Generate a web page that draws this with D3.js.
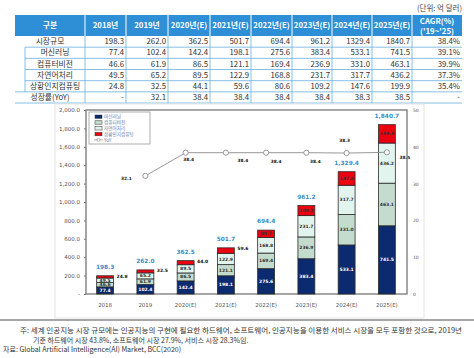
<!DOCTYPE html>
<html>
<head>
<meta charset="utf-8">
<script src="https://cdn.jsdelivr.net/npm/d3@7/dist/d3.min.js"></script>
<style>
	body {margin: 0; background: #fff;}
	svg {display: block;}
</style>
</head>
<body>
<div id="chart"></div>
<script>
// table + chart data
var years = ["2018", "2019", "2020(E)", "2021(E)", "2022(E)", "2023(E)", "2024(E)", "2025(E)"];
var headerYears = ["2018년", "2019년", "2020년(E)", "2021년(E)", "2022년(E)", "2023년(E)", "2024년(E)", "2025년(E)"];
var marketSize = [198.3, 262.0, 362.5, 501.7, 694.4, 961.2, 1329.4, 1840.7];
var machineLearning = [77.4, 102.4, 142.4, 198.1, 275.6, 383.4, 533.1, 741.5];
var computerVision = [46.6, 61.9, 86.5, 121.1, 169.4, 236.9, 331.0, 463.1];
var naturalLanguage = [49.5, 65.2, 89.5, 122.9, 168.8, 231.7, 317.7, 436.2];
var contextAware = [24.8, 32.5, 44.1, 59.6, 80.6, 109.2, 147.6, 199.9];
var contextChartLabels = [24.8, 32.5, 44.0, 59.6, 80.7, 109.2, 147.6, 199.9];
var yoy = [null, 32.1, 38.4, 38.4, 38.4, 38.4, 38.3, 38.5];
var cagr = ["38.4%", "39.1%", "39.9%", "37.3%", "35.4%", "-"];
var rowLabels = ["시장규모", "머신러닝", "컴퓨터비전", "자연어처리", "상황인지컴퓨팅", "성장률(YoY)"];
var seriesNames = ["머신러닝", "컴퓨터비전", "자연어처리", "상황인지컴퓨팅"];
var leftTicks = [0, 200, 400, 600, 800, 1000, 1200, 1400, 1600, 1800, 2000];
var rightTicks = [0, 10, 20, 30, 40, 50];

var W = 474, H = 358;
var colors = {ml: "#0b2a6f", cv: "#c3dccd", nlp: "#e2f4ee", ctx: "#ec0010"};
var kr = "'Noto Sans CJK KR', 'Noto Sans', sans-serif";
var dv = "'DejaVu Sans', sans-serif";

var svg = d3.select("#chart").append("svg")
	.attr("width", W)
	.attr("height", H);

svg.append("rect").attr("width", W).attr("height", H).attr("fill", "#fff");

// ---------- table ----------
var colEdges = [15, 85, 126, 168, 210, 251, 292, 332, 372, 412, 462];
var headTop = 15, headBottom = 36, rowH = 11.17;

svg.append("text")
	.attr("x", 462).attr("y", 8)
	.attr("dy", "0.35em")
	.attr("text-anchor", "end")
	.style("font-family", kr).style("font-size", "7.5px").attr("fill", "#444")
	.text("(단위: 억 달러)");

svg.append("rect")
	.attr("x", colEdges[0]).attr("y", headTop)
	.attr("width", colEdges[10] - colEdges[0]).attr("height", headBottom - headTop)
	.attr("fill", "#2e8fd6");

var headLabels = ["구분"].concat(headerYears);
headLabels.forEach(function(t, i){
	svg.append("text")
		.attr("x", (colEdges[i] + colEdges[i + 1]) / 2)
		.attr("y", (headTop + headBottom) / 2)
		.attr("dy", "0.35em")
		.attr("text-anchor", "middle")
		.style("font-family", kr).style("font-size", "7.8px").style("font-weight", "bold")
		.attr("fill", "#fff")
		.text(t);
});
["CAGR(%)", "('19~'25)"].forEach(function(t, i){
	svg.append("text")
		.attr("x", (colEdges[9] + colEdges[10]) / 2)
		.attr("y", 21 + i * 10)
		.attr("dy", "0.35em")
		.attr("text-anchor", "middle")
		.style("font-family", kr).style("font-size", "7.8px").style("font-weight", "bold")
		.attr("fill", "#fff")
		.text(t);
});
// header separators
for (var c = 1; c < colEdges.length - 1; c++) {
	svg.append("line")
		.attr("x1", colEdges[c]).attr("x2", colEdges[c])
		.attr("y1", headTop).attr("y2", headBottom)
		.attr("stroke", "#fff").attr("stroke-width", 1);
}

var tableRows = [marketSize, machineLearning, computerVision, naturalLanguage, contextAware, yoy];
var fmt1 = d3.format(".1f");
var lineCol = "#6aaee0";

tableRows.forEach(function(vals, r){
	var top = headBottom + r * rowH;
	var sub = r >= 1 && r <= 4;
	svg.append("text")
		.attr("x", sub ? 55 : 50)
		.attr("y", top + rowH / 2)
		.attr("dy", "0.35em")
		.attr("text-anchor", "middle")
		.style("font-family", kr).style("font-size", "7.8px")
		.attr("fill", "#333")
		.text(rowLabels[r]);
	vals.forEach(function(v, i){
		svg.append("text")
			.attr("x", colEdges[i + 2] - 2)
			.attr("y", top + rowH / 2)
			.attr("dy", "0.35em")
			.attr("text-anchor", "end")
			.style("font-family", kr).style("font-size", "7.8px")
			.attr("fill", "#333")
			.text(v == null ? "-" : fmt1(v));
	});
	svg.append("text")
		.attr("x", colEdges[10] - 2)
		.attr("y", top + rowH / 2)
		.attr("dy", "0.35em")
		.attr("text-anchor", "end")
		.style("font-family", kr).style("font-size", "7.8px")
		.attr("fill", "#333")
		.text(cagr[r]);
	// bottom line of row
	var x0 = (r <= 3) ? 25 : 15;
	svg.append("line")
		.attr("x1", x0).attr("x2", colEdges[10])
		.attr("y1", top + rowH).attr("y2", top + rowH)
		.attr("stroke", lineCol).attr("stroke-width", 0.8);
});
var bodyBottom = headBottom + 6 * rowH;
for (var c2 = 1; c2 < colEdges.length - 1; c2++) {
	svg.append("line")
		.attr("x1", colEdges[c2]).attr("x2", colEdges[c2])
		.attr("y1", headBottom).attr("y2", bodyBottom)
		.attr("stroke", lineCol).attr("stroke-width", 0.8);
}
svg.append("line")
	.attr("x1", 25).attr("x2", 25)
	.attr("y1", headBottom + rowH).attr("y2", headBottom + 5 * rowH)
	.attr("stroke", lineCol).attr("stroke-width", 0.8);

// ---------- chart ----------
svg.append("rect")
	.attr("x", 55).attr("y", 104).attr("width", 369).attr("height", 214)
	.attr("fill", "none").attr("stroke", "#e4e4e4").attr("stroke-width", 1);

var plot = {left: 86, right: 407, top: 110, bottom: 294};

var x = d3.scaleBand()
	.domain(years)
	.range([85, 407])
	.paddingInner(0.58)
	.paddingOuter(0.29);

var y = d3.scaleLinear().domain([0, 2000]).range([plot.bottom, plot.top]);
var y2 = d3.scaleLinear().domain([0, 50]).range([plot.bottom, plot.top]);

var stackRows = years.map(function(yr, i){
	return {year: yr, ml: machineLearning[i], cv: computerVision[i], nlp: naturalLanguage[i], ctx: contextAware[i]};
});
var keys = ["ml", "cv", "nlp", "ctx"];
var series = d3.stack().keys(keys)(stackRows);

// left axis
var leftAxis = d3.axisLeft(y)
	.tickValues(leftTicks)
	.tickSize(2)
	.tickFormat(function(d){ return d === 0 ? "-" : d3.format(",.1f")(d); });
var gl = svg.append("g").attr("transform", "translate(" + plot.left + ",0)").call(leftAxis);
gl.select(".domain").remove();
gl.selectAll("line").attr("stroke", "#777");
gl.selectAll("text").attr("x", -6).style("font-family", dv).style("font-size", "5.5px").attr("fill", "#555");

// right axis
var rightAxis = d3.axisRight(y2).tickValues(rightTicks).tickSize(0).tickFormat(d3.format("d"));
var gr = svg.append("g").attr("transform", "translate(" + (plot.right + 3) + ",0)").call(rightAxis);
gr.select(".domain").remove();
gr.selectAll("text").attr("x", 3).style("font-family", dv).style("font-size", "4.5px").attr("fill", "#555");

// bottom axis labels
var bottomAxis = d3.axisBottom(x).tickSize(0);
var gb = svg.append("g").attr("transform", "translate(0," + plot.bottom + ")").call(bottomAxis);
gb.select(".domain").remove();
gb.selectAll("text").attr("y", 9).style("font-family", dv).style("font-size", "5.5px").attr("fill", "#555");

// frame
svg.append("rect")
	.attr("x", plot.left).attr("y", plot.top)
	.attr("width", plot.right - plot.left).attr("height", plot.bottom - plot.top)
	.attr("fill", "none").attr("stroke", "#808080").attr("stroke-width", 1.4);

// bars
var layers = svg.append("g").selectAll("g")
	.data(series)
	.enter()
	.append("g")
	.attr("fill", function(d){ return colors[d.key]; });

layers.selectAll("rect")
	.data(function(d){ return d; })
	.enter()
	.append("rect")
	.attr("x", function(d){ return x(d.data.year); })
	.attr("y", function(d){ return y(d[1]); })
	.attr("width", x.bandwidth())
	.attr("height", function(d){ return y(d[0]) - y(d[1]); })
	.attr("stroke", "#2b2b2b")
	.attr("stroke-width", 0.8);

// segment labels
series.forEach(function(s){
	s.forEach(function(d, i){
		var h = y(d[0]) - y(d[1]);
		var val = s.key === "ctx" ? contextChartLabels[i] : d[1] - d[0];
		var txt = d3.format(".1f")(val);
		var inside = !(s.key === "ctx" && h < 6);
		var t = svg.append("text")
			.style("font-family", dv).style("font-size", "4.5px").style("font-weight", "bold")
			.attr("dy", "0.35em")
			.text(txt);
		if (inside) {
			t.attr("x", x(d.data.year) + x.bandwidth() / 2)
				.attr("y", (y(d[0]) + y(d[1])) / 2)
				.attr("text-anchor", "middle")
				.attr("fill", s.key === "ml" ? "#fff" : "#333");
		} else {
			t.attr("x", x(d.data.year) + x.bandwidth() + 3)
				.attr("y", y(d[1]) + 1)
				.attr("text-anchor", "start")
				.attr("fill", "#111");
		}
	});
});

// totals
svg.append("g").selectAll("text")
	.data(marketSize)
	.enter()
	.append("text")
	.attr("x", function(d, i){ return x(years[i]) + x.bandwidth() / 2; })
	.attr("y", function(d){ return y(d) - 9; })
	.attr("dy", "0.35em")
	.attr("text-anchor", "middle")
	.style("font-family", dv).style("font-size", "5.8px").style("font-weight", "bold")
	.attr("fill", "#3a8cc8")
	.text(function(d){ return d3.format(",.1f")(d); });

// YoY line
var yoyPts = yoy.map(function(v, i){ return {year: years[i], v: v, i: i}; }).filter(function(d){ return d.v != null; });
var line = d3.line()
	.x(function(d){ return x(d.year) + x.bandwidth() / 2; })
	.y(function(d){ return y2(d.v); });
svg.append("path")
	.datum(yoyPts)
	.attr("d", line)
	.attr("fill", "none")
	.attr("stroke", "#8c8c8c")
	.attr("stroke-width", 0.9);
svg.append("g").selectAll("circle")
	.data(yoyPts)
	.enter()
	.append("circle")
	.attr("cx", function(d){ return x(d.year) + x.bandwidth() / 2; })
	.attr("cy", function(d){ return y2(d.v); })
	.attr("r", 2.6)
	.attr("fill", "#fff")
	.attr("stroke", "#8c8c8c")
	.attr("stroke-width", 0.9);

var yoyLabelOffset = [null, [-19, 3], [3, 7], [17, 8], [10, 9], [9, 9], [-2, -13], [18, 5]];
svg.append("g").selectAll("text")
	.data(yoyPts)
	.enter()
	.append("text")
	.attr("x", function(d){ return x(d.year) + x.bandwidth() / 2 + yoyLabelOffset[d.i][0]; })
	.attr("y", function(d){ return y2(d.v) + yoyLabelOffset[d.i][1]; })
	.attr("dy", "0.35em")
	.attr("text-anchor", "middle")
	.style("font-family", dv).style("font-size", "4.3px").style("font-weight", "bold")
	.attr("fill", "#111")
	.text(function(d){ return d3.format(".1f")(d.v); });

// legend
var lg = svg.append("g").attr("transform", "translate(89,112)");
lg.append("rect").attr("width", 61).attr("height", 32)
	.attr("fill", "#fff").attr("stroke", "#999").attr("stroke-width", 0.8);
keys.forEach(function(k, i){
	lg.append("rect")
		.attr("x", 6).attr("y", 3 + i * 5.8 - 0)
		.attr("width", 7).attr("height", 3.4)
		.attr("fill", colors[k]).attr("stroke", "#333").attr("stroke-width", 0.5);
	lg.append("text")
		.attr("x", 15).attr("y", 4.7 + i * 5.8)
		.attr("dy", "0.35em")
		.style("font-family", kr).style("font-size", "4.6px")
		.attr("fill", "#6474a8")
		.text(seriesNames[i]);
});
lg.append("line").attr("x1", 5).attr("x2", 14).attr("y1", 27.9).attr("y2", 27.9)
	.attr("stroke", "#8c8c8c").attr("stroke-width", 0.7);
lg.append("circle").attr("cx", 9.5).attr("cy", 27.9).attr("r", 1.5)
	.attr("fill", "#fff").attr("stroke", "#8c8c8c").attr("stroke-width", 0.6);
lg.append("text").attr("x", 15).attr("y", 27.9).attr("dy", "0.35em")
	.style("font-family", kr).style("font-size", "4.6px").attr("fill", "#6474a8")
	.text("YoY");

// ---------- footnote ----------
svg.append("line")
	.attr("x1", 0).attr("x2", W).attr("y1", 320).attr("y2", 320)
	.attr("stroke", "#888").attr("stroke-width", 1.6);

var notes = [
	{x: 20, y: 331, t: "주: 세계 인공지능 시장 규모에는 인공지능의 구현에 필요한 하드웨어, 소프트웨어, 인공지능을 이용한 서비스 시장을 모두 포함한 것으로, 2019년", w: 442},
	{x: 33, y: 341, t: "기준 하드웨어 시장 43.8%, 소프트웨어 시장 27.9%, 서비스 시장 28.3%임.", w: 0},
	{x: 3, y: 350, t: "자료: Global Artificial Intelligence(AI) Market, BCC(2020)", w: 0}
];
notes.forEach(function(n){
	var t = svg.append("text")
		.attr("x", n.x).attr("y", n.y)
		.attr("dy", "0.35em")
		.style("font-family", kr).style("font-size", "7px")
		.attr("fill", "#333")
		.text(n.t);
	if (n.w) t.attr("textLength", n.w).attr("lengthAdjust", "spacingAndGlyphs");
});
</script>
</body>
</html>
